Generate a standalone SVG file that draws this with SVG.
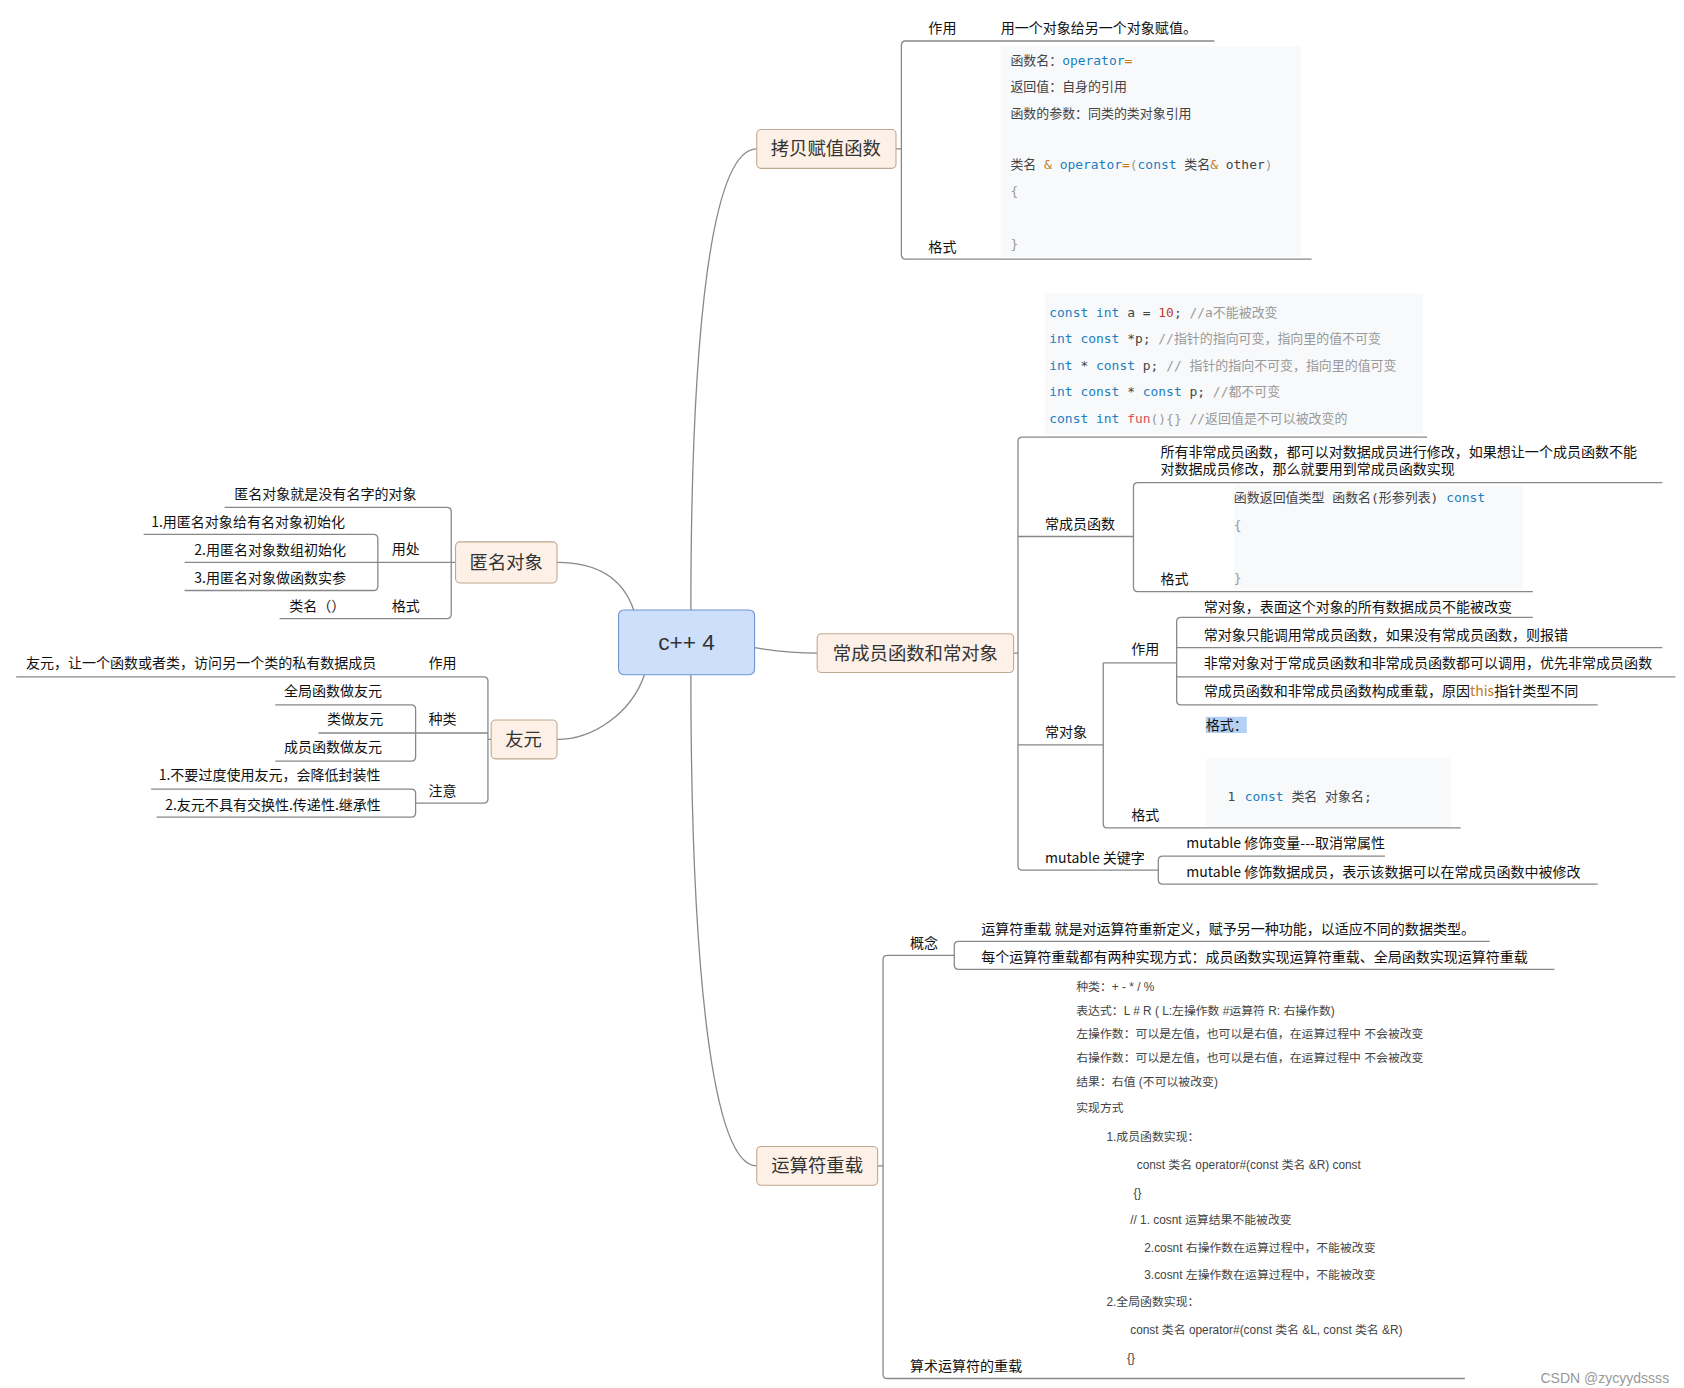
<svg xmlns="http://www.w3.org/2000/svg" width="1684" height="1388" viewBox="0 0 1684 1388">
<style>
.t{font-family:"Noto Sans CJK SC","Liberation Sans",sans-serif;font-size:13px;fill:#111}
.s{font-family:"Liberation Sans","Noto Sans CJK SC",sans-serif;font-size:11px;fill:#444}
.c{font-family:"DejaVu Sans Mono","Noto Sans CJK SC",monospace;font-size:12px;fill:#444}
.k{fill:#1a7fc0}.n{fill:#c0392b}.g{fill:#999}.o{fill:#c07a2a}.f{fill:#e0505a}
.nd{fill:#fdf1e7;stroke:#bfa890;stroke-width:1}
.nt{font-family:"Noto Sans CJK SC",sans-serif;font-size:17px;fill:#333}
.l{fill:none;stroke:#888;stroke-width:1.2}
.cb{fill:#f8f9fb}
</style>
<rect width="1684" height="1388" fill="#fff"/>
<g transform="scale(1.0795)">
<g id="connectors">
<path class="l" d="M640,565 C640,300 660,138 701,138"/>
<path class="l" d="M640,625 C640,900 660,1080 701,1080"/>
<path class="l" d="M699,600 C725,604 740,605 757,605"/>
<path class="l" d="M587,565 C575,530 545,521 516,521"/>
<path class="l" d="M597,625 C585,660 550,685 516,685"/>
<!-- copy assign -->
<path class="l" d="M830,138 H835 M1125,38 H839 Q835,38 835,42 V236 Q835,240 839,240 H1215"/>
<!-- const member -->
<path class="l" d="M939,605 H943 M1322,405 H947 Q943,405 943,409 V802 Q943,806 947,806 H1073 M943,497 H1050 M943,690 H1022"/>
<path class="l" d="M1540,447 H1054 Q1050,447 1050,451 V544 Q1050,548 1054,548 H1420"/>
<path class="l" d="M1022,614 V763 Q1022,767 1026,767 H1353 M1022,614 H1090"/>
<path class="l" d="M1420,572 H1094 Q1090,572 1090,576 V649 Q1090,653 1094,653 H1480 M1090,600 H1540 M1090,627 H1552"/>
<path class="l" d="M1073,806 V797 Q1073,793 1077,793 H1283 M1073,806 V815 Q1073,819 1077,819 H1480"/>
<!-- operator -->
<path class="l" d="M813,1080 H818 M884,885 H822 Q818,885 818,889 V1273 Q818,1277 822,1277 H1357"/>
<path class="l" d="M1380,872 H888 Q884,872 884,876 V894 Q884,898 888,898 H1440"/>
<!-- anonymous -->
<path class="l" d="M422,521 H171 M208,470 H414 Q418,470 418,474 V569 Q418,573 414,573 H259"/>
<path class="l" d="M133,495 H346 Q350,495 350,499 V543 Q350,547 346,547 H171"/>
<!-- friend -->
<path class="l" d="M455,685 H452 M15,627 H448 Q452,627 452,631 V740 Q452,744 448,744 H385 M452,679 H295"/>
<path class="l" d="M255,653 H381 Q385,653 385,657 V701 Q385,705 381,705 H255"/>
<path class="l" d="M140,731 H381 Q385,731 385,735 V753 Q385,757 381,757 H145"/>
</g>
<g id="center"><rect x="573" y="565" width="126" height="60" rx="5" fill="#cddffa" stroke="#6f94d0"/><text x="636" y="602" text-anchor="middle" font-family="Liberation Sans,sans-serif" font-size="21" fill="#333">c++  4</text></g>
<g id="n1"><rect class="nd" x="701" y="120" width="129" height="36" rx="4"/><text class="nt" x="765" y="144" text-anchor="middle">拷贝赋值函数</text></g>
<g id="n2"><rect class="nd" x="757" y="587" width="182" height="36" rx="4"/><text class="nt" x="848" y="611" text-anchor="middle">常成员函数和常对象</text></g>
<g id="n3"><rect class="nd" x="701" y="1062" width="112" height="36" rx="4"/><text class="nt" x="757" y="1086" text-anchor="middle">运算符重载</text></g>
<g id="n4"><rect class="nd" x="422" y="502" width="94" height="38" rx="4"/><text class="nt" x="469" y="527" text-anchor="middle">匿名对象</text></g>
<g id="n5"><rect class="nd" x="455" y="667" width="61" height="36" rx="4"/><text class="nt" x="485" y="691" text-anchor="middle">友元</text></g>
<g id="copy">
<text class="t" x="860" y="31">作用</text><text class="t" x="927" y="31">用一个对象给另一个对象赋值。</text>
<text class="t" x="860" y="233">格式</text>
<rect class="cb" x="927" y="43" width="278" height="195"/>
<text class="c" x="936" y="60">函数名：<tspan class="k">operator</tspan><tspan class="o">=</tspan></text>
<text class="c" x="936" y="84">返回值：自身的引用</text>
<text class="c" x="936" y="109">函数的参数：同类的类对象引用</text>
<text class="c" x="936" y="157">类名 <tspan class="o">&amp;</tspan> <tspan class="k">operator</tspan><tspan class="o">=</tspan><tspan class="g">(</tspan><tspan class="k">const</tspan> 类名<tspan class="o">&amp;</tspan> other<tspan class="g">)</tspan></text>
<text class="c g" x="936" y="181">{</text><text class="c g" x="936" y="230">}</text>
</g>
<g id="constm">
<rect class="cb" x="968" y="272" width="350" height="130"/>
<text class="c" x="972" y="294"><tspan class="k">const int</tspan> a = <tspan class="n">10</tspan>;  <tspan class="g">//a不能被改变</tspan></text>
<text class="c" x="972" y="318"><tspan class="k">int const</tspan> *p;  <tspan class="g">//指针的指向可变，指向里的值不可变</tspan></text>
<text class="c" x="972" y="343"><tspan class="k">int</tspan> * <tspan class="k">const</tspan> p; <tspan class="g">// 指针的指向不可变，指向里的值可变</tspan></text>
<text class="c" x="972" y="367"><tspan class="k">int const</tspan> * <tspan class="k">const</tspan> p; <tspan class="g">//都不可变</tspan></text>
<text class="c" x="972" y="392"><tspan class="k">const int</tspan> <tspan class="f">fun</tspan><tspan class="g">(){}</tspan>   <tspan class="g">//返回值是不可以被改变的</tspan></text>
<text class="t" x="968" y="490">常成员函数</text><text class="t" x="968" y="683">常对象</text><text class="t" x="968" y="799">mutable 关键字</text>
<text class="t" x="1075" y="423">所有非常成员函数，都可以对数据成员进行修改，如果想让一个成员函数不能</text>
<text class="t" x="1075" y="439">对数据成员修改，那么就要用到常成员函数实现</text>
<text class="t" x="1075" y="541">格式</text>
<rect class="cb" x="1143" y="450" width="268" height="96"/>
<text class="c" x="1143" y="465">函数返回值类型 函数名(形参列表)  <tspan class="k">const</tspan></text>
<text class="c g" x="1143" y="490">{</text><text class="c g" x="1143" y="539">}</text>
<text class="t" x="1048" y="606">作用</text><text class="t" x="1048" y="760">格式</text>
<text class="t" x="1115" y="567">常对象，表面这个对象的所有数据成员不能被改变</text>
<text class="t" x="1115" y="593">常对象只能调用常成员函数，如果没有常成员函数，则报错</text>
<text class="t" x="1115" y="619">非常对象对于常成员函数和非常成员函数都可以调用，优先非常成员函数</text>
<text class="t" x="1115" y="645">常成员函数和非常成员函数构成重载，原因<tspan class="o">this</tspan>指针类型不同</text>
<rect x="1117" y="664" width="38" height="15" fill="#b3d0f5"/><text class="t" x="1117" y="676" fill="#446">格式：</text>
<rect class="cb" x="1117" y="702" width="227" height="64" rx="3"/>
<text class="c" x="1137" y="742" font-size="9">1</text><text class="c" x="1153" y="742"><tspan class="k">const</tspan> 类名  对象名;</text>
<text class="t" x="1099" y="786">mutable 修饰变量---取消常属性</text>
<text class="t" x="1099" y="812">mutable 修饰数据成员，表示该数据可以在常成员函数中被修改</text>
</g>
<g id="oper">
<text class="t" x="843" y="878">概念</text><text class="t" x="843" y="1270">算术运算符的重载</text>
<text class="t" x="909" y="865">运算符重载 就是对运算符重新定义，赋予另一种功能，以适应不同的数据类型。</text>
<text class="t" x="909" y="891">每个运算符重载都有两种实现方式：成员函数实现运算符重载、全局函数实现运算符重载</text>
<text class="s" x="997" y="918">种类：+  -  *  /    %</text>
<text class="s" x="997" y="940">表达式：L  #   R    ( L:左操作数      #运算符     R:  右操作数)</text>
<text class="s" x="997" y="962">左操作数：可以是左值，也可以是右值，在运算过程中  不会被改变</text>
<text class="s" x="997" y="984">右操作数：可以是左值，也可以是右值，在运算过程中  不会被改变</text>
<text class="s" x="997" y="1006">结果：右值  (不可以被改变)</text>
<text class="s" x="997" y="1030">实现方式</text>
<text class="s" x="1025" y="1057">1.成员函数实现：</text>
<text class="s" x="1053" y="1083">const 类名 operator#(const 类名 &amp;R) const</text>
<text class="s" x="1050" y="1109">{}</text>
<text class="s" x="1047" y="1134">// 1. cosnt 运算结果不能被改变</text>
<text class="s" x="1060" y="1160">2.cosnt 右操作数在运算过程中，不能被改变</text>
<text class="s" x="1060" y="1185">3.cosnt 左操作数在运算过程中，不能被改变</text>
<text class="s" x="1025" y="1210">2.全局函数实现：</text>
<text class="s" x="1047" y="1236">const 类名 operator#(const 类名 &amp;L, const 类名 &amp;R)</text>
<text class="s" x="1044" y="1262">{}</text>
</g>
<g id="anon">
<text class="t" x="217" y="462">匿名对象就是没有名字的对象</text>
<text class="t" x="140" y="488">1.用匿名对象给有名对象初始化</text>
<text class="t" x="180" y="514">2.用匿名对象数组初始化</text>
<text class="t" x="180" y="540">3.用匿名对象做函数实参</text>
<text class="t" x="268" y="566">类名（）</text>
<text class="t" x="363" y="513">用处</text><text class="t" x="363" y="566">格式</text>
</g>
<g id="friend">
<text class="t" x="24" y="619">友元，让一个函数或者类，访问另一个类的私有数据成员</text>
<text class="t" x="397" y="619">作用</text><text class="t" x="397" y="671">种类</text><text class="t" x="397" y="737">注意</text>
<text class="t" x="263" y="645">全局函数做友元</text>
<text class="t" x="303" y="671">类做友元</text>
<text class="t" x="263" y="697">成员函数做友元</text>
<text class="t" x="147" y="723">1.不要过度使用友元，会降低封装性</text>
<text class="t" x="153" y="750">2.友元不具有交换性.传递性.继承性</text>
</g>
<text x="1427" y="1281" font-family="Liberation Sans,sans-serif" font-size="13" fill="#999">CSDN @zycyydssss</text>
</g>
</svg>
